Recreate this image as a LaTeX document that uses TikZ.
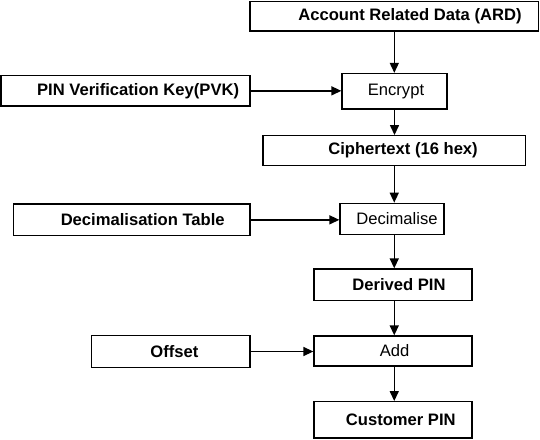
\documentclass[tikz,border=0pt]{standalone}
\usepackage{fontspec}
\setmainfont{Liberation Sans}
\usetikzlibrary{arrows.meta}
\tikzset{
  box/.style={draw=black, line width=1.3pt, fill=white, inner sep=0pt},
  dtext/.style={font=\fontsize{16.6}{19}\selectfont\bfseries, inner sep=0pt},
  otext/.style={font=\fontsize{16.6}{19}\selectfont, inner sep=0pt},
  flow/.style={line width=1.4pt, -{Triangle[length=10pt,width=9pt]}},
}
\begin{document}
\begin{tikzpicture}[x=1pt,y=-1pt]
\useasboundingbox (0,0) rectangle (540,439);
\node[box, minimum width=288.6pt, minimum height=29.3pt, label={[dtext,xshift=15.7pt]center:Account Related Data (ARD)}] (ard) at (394.3,16.35) {};
\node[box, minimum width=105pt, minimum height=35.5pt, label={[otext,xshift=1.5pt]center:Encrypt}] (enc) at (394.5,91.25) {};
\node[box, minimum width=249pt, minimum height=30.3pt, label={[dtext,xshift=12.5pt]center:PIN Verification Key(PVK)}] (pvk) at (125.6,90.85) {};
\node[box, minimum width=262.5pt, minimum height=30pt, label={[dtext,xshift=8.8pt]center:Ciphertext (16 hex)}] (cip) at (394.25,150.7) {};
\node[box, minimum width=236.2pt, minimum height=31.7pt, label={[dtext,xshift=10.8pt]center:Decimalisation Table}] (dtab) at (131.9,219.85) {};
\node[box, minimum width=104pt, minimum height=31.4pt, label={[otext,xshift=5pt]center:Decimalise}] (dec) at (392,219) {};
\node[box, minimum width=158pt, minimum height=31.7pt, label={[dtext,xshift=6pt]center:Derived PIN}] (der) at (393,284.85) {};
\node[box, minimum width=158.3pt, minimum height=31.6pt, label={[dtext,xshift=3.6pt]center:Offset}] (off) at (170.85,351.5) {};
\node[box, minimum width=158pt, minimum height=30pt, label={[otext,xshift=1.6pt]center:Add}] (add) at (393,351) {};
\node[box, minimum width=158pt, minimum height=36.3pt, label={[dtext,xshift=7.8pt]center:Customer PIN}] (cus) at (393,419.85) {};

\draw[flow] (ard.south) -- (ard.south |- enc.north);
\draw[flow] (enc.south) -- (enc.south |- cip.north);
\draw[flow] (cip.south) -- (cip.south |- dec.north);
\draw[flow] (dec.south -| cip.south) -- (cip.south |- der.north);
\draw[flow] (der.south -| cip.south) -- (cip.south |- add.north);
\draw[flow] (add.south -| cip.south) -- (cip.south |- cus.north);
\draw[flow] (pvk.east) -- (pvk.east -| enc.west);
\draw[flow] (dtab.east) -- (dtab.east -| dec.west);
\draw[flow] (off.east) -- (off.east -| add.west);
\end{tikzpicture}
\end{document}
